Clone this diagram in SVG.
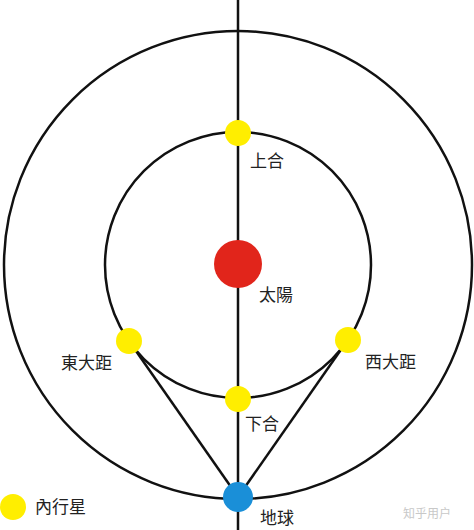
<svg xmlns="http://www.w3.org/2000/svg" width="474" height="530" viewBox="0 0 474 530">
<style>
.orbit{fill:none;stroke:#111;stroke-width:2.5}
.ln{stroke:#111;stroke-width:2.5;fill:none}
.planet{fill:#FFEE00}
.lbl{font-family:"Noto Sans CJK TC","Noto Sans CJK SC",sans-serif;font-size:17px;fill:#222}
.wm{font-family:"Noto Sans CJK SC",sans-serif;font-size:12px;fill:#c8c8c8}
</style>
<rect width="474" height="530" fill="#fff"/>
<g id="connectors">
<line class="ln" x1="238" y1="0" x2="238" y2="530"/>
<line class="ln" x1="238" y1="497" x2="129" y2="341"/>
<line class="ln" x1="238" y1="497" x2="347" y2="341"/>
</g>
<g id="outer-orbit"><circle class="orbit" cx="238" cy="265" r="234"/></g>
<g id="inner-orbit"><circle class="orbit" cx="238" cy="265" r="133"/></g>
<g id="sun"><circle cx="238" cy="264" r="24" fill="#E1251B"/><text class="lbl" x="259" y="301">太陽</text></g>
<g id="superior"><circle class="planet" cx="238" cy="133" r="13"/><text class="lbl" x="250" y="167">上合</text></g>
<g id="inferior"><circle class="planet" cx="238" cy="399" r="13"/><text class="lbl" x="245" y="430">下合</text></g>
<g id="east"><circle class="planet" cx="129" cy="341" r="13"/><text class="lbl" x="61" y="369">東大距</text></g>
<g id="west"><circle class="planet" cx="348" cy="340" r="13"/><text class="lbl" x="365" y="368">西大距</text></g>
<g id="earth"><circle cx="238" cy="497" r="15" fill="#1A8FD8"/><text class="lbl" x="260" y="524">地球</text></g>
<g id="legend"><circle class="planet" cx="13" cy="507" r="13"/><text class="lbl" x="35" y="513">內行星</text></g>
<text class="wm" x="403" y="518">知乎用户</text>
</svg>
